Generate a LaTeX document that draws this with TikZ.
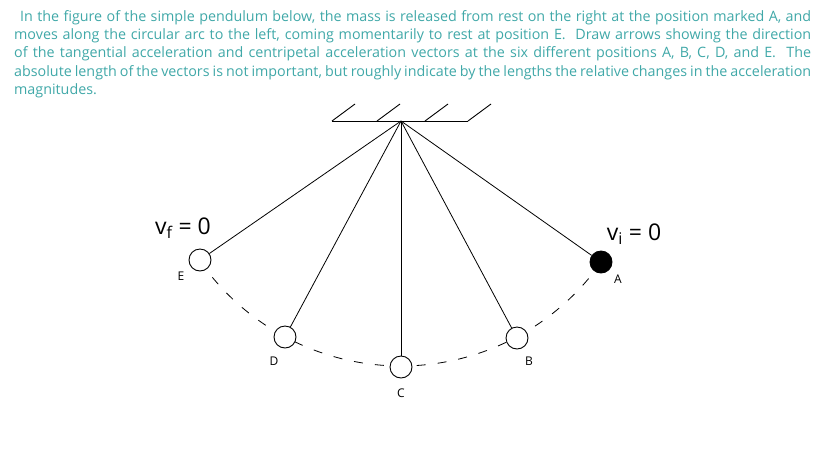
\documentclass[tikz,border=0pt]{standalone}
\usepackage{fontspec}
\setmainfont{Open Sans}
\begin{document}
\begin{tikzpicture}[x=1pt,y=-1pt,
  bob/.style={circle,draw,line width=0.9pt,minimum size=22pt,inner sep=0pt},
  rod/.style={line width=0.8pt},
  lbl/.style={font=\fontsize{12}{13}\selectfont},
  big/.style={font=\fontsize{23}{26}\selectfont}]
\definecolor{teal1}{RGB}{64,168,168}
\useasboundingbox (0,0) rectangle (835,475);
\node[anchor=north west,text width=797pt,align=justify,inner sep=0pt,text=teal1,
  font=\fontsize{14.3}{18.4}\selectfont] (txt) at (14,10)
 {\hspace*{6pt}In the figure of the simple pendulum below, the mass is released from rest on the right at the position marked A, and moves along the circular arc to the left, coming momentarily to rest at position E.\ \ Draw arrows showing the direction of the tangential acceleration and centripetal acceleration vectors at the six different positions A, B, C, D, and E.\ \ The absolute length of the vectors is not important, but roughly indicate by the lengths the relative changes in the acceleration magnitudes.};
\coordinate (P) at (401,121);
\draw[line width=0.9pt] (332,121) -- (468,121);
\foreach \x in {332,377,425,468} \draw[line width=0.9pt] (\x,121) -- ++(23,-17);
\draw[dash pattern=on 9pt off 12pt,line width=0.8pt] (P) ++(35.1:245) arc[start angle=35.1,end angle=145.2,radius=245];
\node[bob,fill=black] (A) at (601,262) {};
\node[bob,fill=white] (B) at (517,338) {};
\node[bob,fill=white] (C) at (401,367) {};
\node[bob,fill=white] (D) at (285,337) {};
\node[bob,fill=white] (E) at (200,260) {};
\foreach \n in {A,B,C,D,E} \draw[rod] (P) -- (\n);
\node[lbl] (la) at (618,279) {A};
\node[lbl] (lb) at (529,361) {B};
\node[lbl] (lc) at (401,393) {C};
\node[lbl] (ld) at (274,361) {D};
\node[lbl] (le) at (181,276) {E};
\node[big] (vi) at (634,234) {v\textsubscript{i} = 0};
\node[big] (vf) at (183,228) {v\textsubscript{f} = 0};
\end{tikzpicture}
\end{document}
